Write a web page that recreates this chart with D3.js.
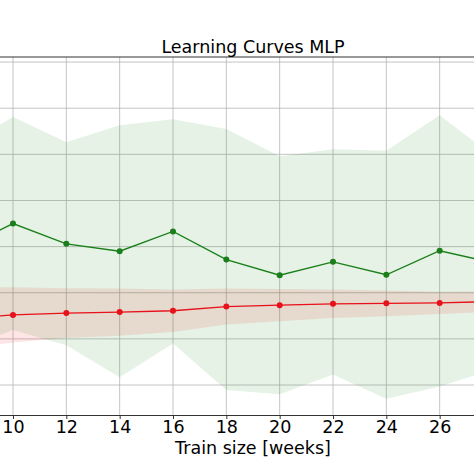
<!DOCTYPE html>
<html>
<head>
<meta charset="utf-8">
<script src="https://cdn.jsdelivr.net/npm/d3@7"></script>
<style>
  body { margin: 0; background: #fff; }
  text { font-family: "DejaVu Sans", sans-serif; }
</style>
</head>
<body>
<div id="root"></div>
<script>
// train size in weeks (first and last points fall outside the visible crop)
var weeks = [8, 10, 12, 14, 16, 18, 20, 22, 24, 26, 28];

// cross-validation score (green) and training score (red), mean and std
var testMean = [3.93, 4.50, 4.06, 3.90, 4.33, 3.72, 3.38, 3.67, 3.39, 3.91, 3.65];
var testStd = [2.18, 2.31, 2.20, 2.73, 2.43, 2.83, 2.58, 2.44, 2.69, 2.94, 2.31];
var trainMean = [2.44, 2.52, 2.56, 2.58, 2.61, 2.70, 2.73, 2.76, 2.77, 2.78, 2.81];
var trainStd = [0.67, 0.60, 0.54, 0.51, 0.46, 0.39, 0.35, 0.31, 0.28, 0.24, 0.22];

// only the ticks inside the crop carry a label
var xGrid = [8, 10, 12, 14, 16, 18, 20, 22, 24, 26, 28, 30];
var xTicks = [10, 12, 14, 16, 18, 20, 22, 24, 26];
var yTicks = [1, 2, 3, 4, 5, 6, 7, 8];

var W = 474, H = 474;
// the picture is a crop: the left and right spines sit off the page
var margin = {top: 57, right: -99, bottom: 59, left: -67};

var svg = d3.select("#root")
    .append("svg")
    .attr("width", W)
    .attr("height", H);

var x = d3.scaleLinear()
    .domain([7, 31])
    .range([margin.left, W - margin.right]);

var y = d3.scaleLinear()
    .domain([0.35, 8.11])
    .range([H - margin.bottom, margin.top]);

var rows = weeks.map(function (w, i) {
    return {w: w, tm: testMean[i], ts: testStd[i], rm: trainMean[i], rs: trainStd[i]};
});

// grid
svg.append("g")
    .selectAll("line")
    .data(xGrid)
    .enter()
    .append("line")
    .attr("x1", function (d) { return x(d); })
    .attr("x2", function (d) { return x(d); })
    .attr("y1", margin.top)
    .attr("y2", H - margin.bottom)
    .attr("stroke", "#b0b0b0")
    .attr("stroke-opacity", 0.75)
    .attr("stroke-width", 1);

svg.append("g")
    .selectAll("line")
    .data(yTicks)
    .enter()
    .append("line")
    .attr("x1", margin.left)
    .attr("x2", W - margin.right)
    .attr("y1", function (d) { return y(d); })
    .attr("y2", function (d) { return y(d); })
    .attr("stroke", "#b0b0b0")
    .attr("stroke-opacity", 0.75)
    .attr("stroke-width", 1);

// std bands
var bandTrain = d3.area()
    .x(function (d) { return x(d.w); })
    .y0(function (d) { return y(d.rm - d.rs); })
    .y1(function (d) { return y(d.rm + d.rs); });

var bandTest = d3.area()
    .x(function (d) { return x(d.w); })
    .y0(function (d) { return y(d.tm - d.ts); })
    .y1(function (d) { return y(d.tm + d.ts); });

svg.append("path")
    .datum(rows)
    .attr("d", bandTrain)
    .attr("fill", "red")
    .attr("fill-opacity", 0.1);

svg.append("path")
    .datum(rows)
    .attr("d", bandTest)
    .attr("fill", "green")
    .attr("fill-opacity", 0.1);

// mean lines with markers
function drawSeries(key, color) {
    var line = d3.line()
        .x(function (d) { return x(d.w); })
        .y(function (d) { return y(d[key]); });

    svg.append("path")
        .datum(rows)
        .attr("d", line)
        .attr("fill", "none")
        .attr("stroke", color)
        .attr("stroke-width", 1.3);

    svg.append("g")
        .selectAll("circle")
        .data(rows)
        .enter()
        .append("circle")
        .attr("cx", function (d) { return x(d.w); })
        .attr("cy", function (d) { return y(d[key]); })
        .attr("r", 3)
        .attr("fill", color);
}

drawSeries("rm", "#e8101a");
drawSeries("tm", "#1a7f1a");

// axes
svg.append("g")
    .attr("transform", "translate(0," + (H - margin.bottom) + ")")
    .call(d3.axisBottom(x).tickValues(xTicks).tickSize(4).tickPadding(2).tickSizeOuter(0));

svg.append("g")
    .attr("transform", "translate(" + margin.left + ",0)")
    .call(d3.axisLeft(y).tickValues(yTicks).tickFormat("").tickSize(4).tickSizeOuter(0));

svg.selectAll(".tick text")
    .attr("font-size", 17.5)
    .attr("fill", "#000");
svg.selectAll(".tick line").attr("stroke", "#333");
svg.selectAll(".domain").attr("stroke", "#333");

// top spine
svg.append("line")
    .attr("x1", margin.left)
    .attr("x2", W - margin.right)
    .attr("y1", margin.top)
    .attr("y2", margin.top)
    .attr("stroke", "#333")
    .attr("stroke-width", 1);

var midX = (x.range()[0] + x.range()[1]) / 2;

svg.append("text")
    .text("Learning Curves MLP")
    .attr("x", midX)
    .attr("y", 53)
    .attr("text-anchor", "middle")
    .attr("font-size", 17.5)
    .attr("fill", "#000");

svg.append("text")
    .text("Train size [weeks]")
    .attr("x", midX)
    .attr("y", 454)
    .attr("text-anchor", "middle")
    .attr("font-size", 17.5)
    .attr("fill", "#000");
</script>
</body>
</html>
